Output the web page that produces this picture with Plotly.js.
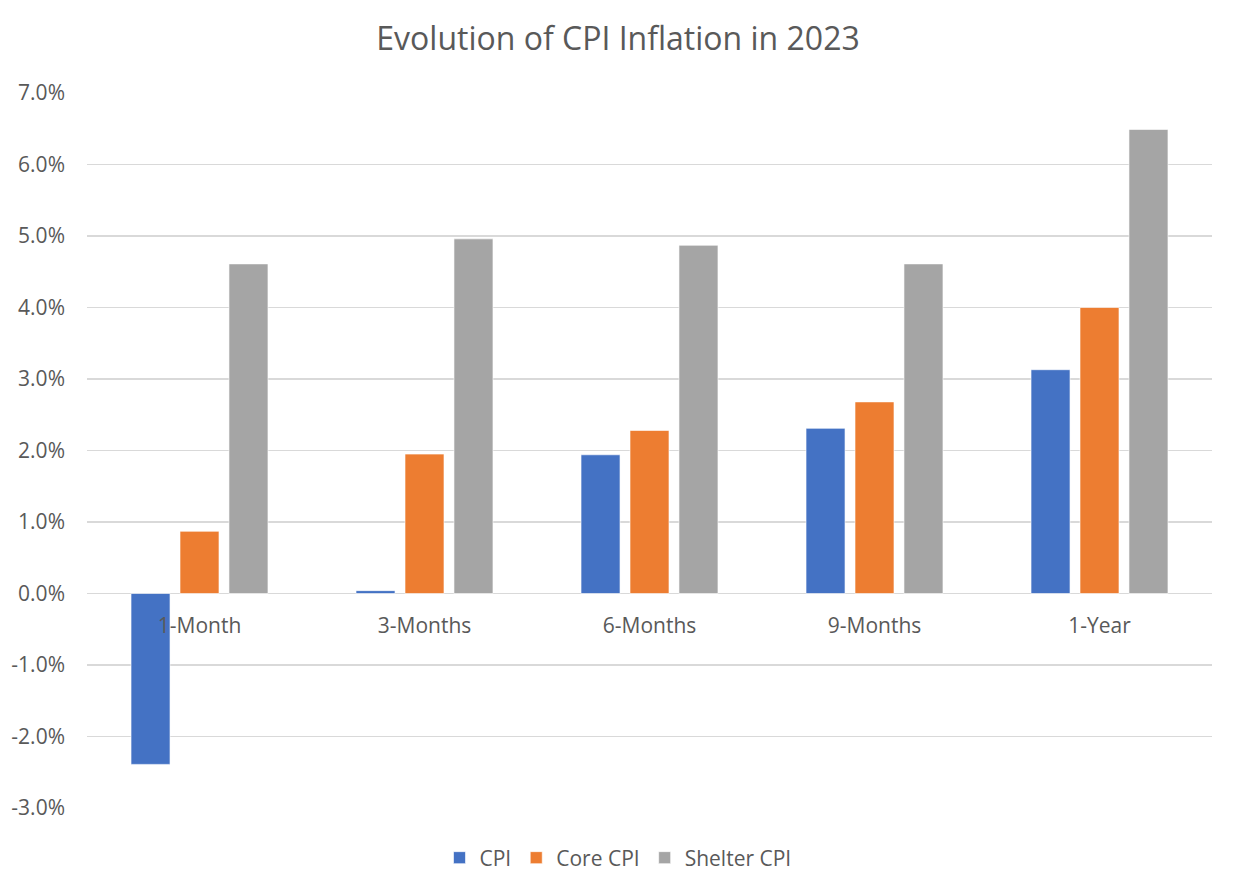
<!DOCTYPE html>
<html>
<head>
<meta charset="utf-8">
<script src="https://cdn.plot.ly/plotly-3.0.1.min.js"></script>
<style>html,body{margin:0;padding:0;background:#fff;}#chart{width:1236px;height:884px;}</style>
</head>
<body>
<div id="chart"></div>
<script>
const categories = ["1-Month", "3-Months", "6-Months", "9-Months", "1-Year"];
const cpi = [-2.39, 0.04, 1.94, 2.31, 3.13];
const coreCpi = [0.87, 1.95, 2.28, 2.68, 4.00];
const shelterCpi = [4.61, 4.96, 4.87, 4.61, 6.49];
const yTickVals = [-3, -2, -1, 0, 1, 2, 3, 4, 5, 6, 7];
const yTickText = yTickVals.map(v => v.toFixed(1) + "%");

const FONT = "'Open Sans', 'Noto Sans', sans-serif";
const TXT = "#595959";

function mk(name, vals, color) {
  return {
    type: "bar", name: name, x: categories, y: vals,
    marker: {color: color, line: {color: "rgba(255,255,255,0.6)", width: 1}},
    hoverinfo: "skip"
  };
}

const data = [
  mk("CPI", cpi, "#4472C4"),
  mk("Core CPI", coreCpi, "#ED7D31"),
  mk("Shelter CPI", shelterCpi, "#A5A5A5")
];

const layout = {
  width: 1236, height: 884,
  paper_bgcolor: "#fff", plot_bgcolor: "#fff",
  margin: {l: 87, r: 24, t: 93, b: 76},
  font: {family: FONT, color: TXT, size: 21},
  title: {text: "Evolution of CPI Inflation in 2023", x: 0.5, xanchor: "center", y: 1 - 39/884, yanchor: "middle", yref: "container",
          font: {family: FONT, size: 32, color: TXT}},
  barmode: "group", bargap: 0.347, bargroupgap: 0.204,
  xaxis: {
    type: "category", anchor: "free", position: 0.3,
    showgrid: false, showline: false, zeroline: false, ticks: "",
    ticklabelstandoff: 17,
    tickfont: {family: FONT, size: 21, color: TXT}
  },
  yaxis: {
    range: [-3, 7], tickvals: yTickVals, ticktext: yTickText,
    showgrid: true, gridcolor: "#D9D9D9", gridwidth: 1.3,
    zeroline: true, zerolinecolor: "#D9D9D9", zerolinewidth: 1.3,
    showline: false, ticks: "", ticklabelstandoff: 21,
    tickfont: {family: FONT, size: 21, color: TXT}
  },
  showlegend: true,
  legend: {orientation: "h", xref: "container", yref: "container", x: 0.5, xanchor: "center", y: 1 - 858/884, yanchor: "middle",
           font: {family: FONT, size: 21, color: TXT}, itemwidth: 30, traceorder: "normal"}
};

Plotly.newPlot("chart", data, layout, {displayModeBar: false, staticPlot: true});
</script>
</body>
</html>
